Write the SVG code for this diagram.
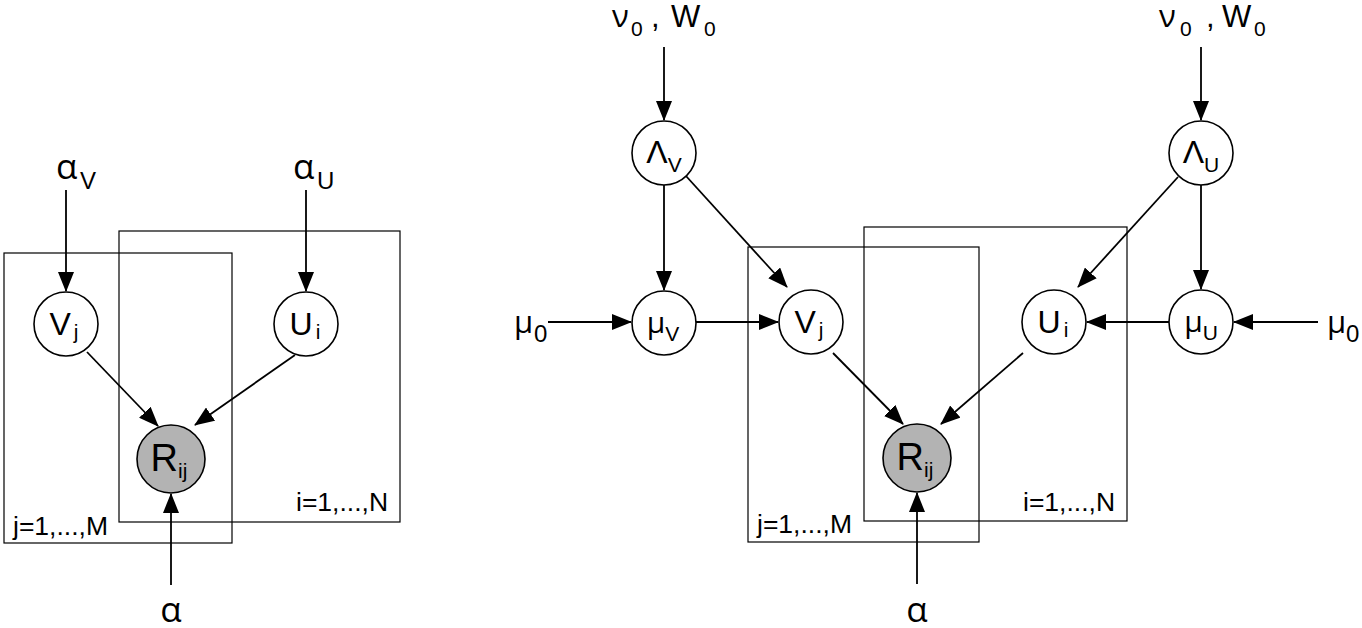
<svg xmlns="http://www.w3.org/2000/svg" width="1362" height="628" viewBox="0 0 1362 628">
<defs>
<marker id="ah" markerWidth="20" markerHeight="16" refX="19" refY="8" orient="auto" markerUnits="userSpaceOnUse">
<path d="M0,0 L20,8 L0,16 Z" fill="#000"/>
</marker>
<style>
text{font-family:"Liberation Sans",Arial,sans-serif;fill:#000}
.gr{font-family:"Open Sans","Liberation Sans",sans-serif}
.plate{fill:none;stroke:#000;stroke-width:1.2}
.node{fill:#fff;stroke:#000;stroke-width:1.6}
.obs{fill:#b3b3b3;stroke:#000;stroke-width:1.6}
.edge{fill:none;stroke:#000;stroke-width:1.8;marker-end:url(#ah)}
.lbl{font-size:31px}
.big{font-size:35px}
.sub{font-size:21px}
.sub2{font-size:24px}
.pl{font-size:26.5px}
.nt{font-size:32px;text-anchor:middle}
</style>
</defs>
<rect width="1362" height="628" fill="#fff"/>

<g id="plates">
<rect id="left-plate-j" class="plate" x="4" y="253" width="228" height="290"/>
<rect id="left-plate-i" class="plate" x="119" y="231" width="281" height="291"/>
<text class="pl" x="13" y="535">j=1,...,M</text>
<text class="pl" x="296" y="511">i=1,...,N</text>
<rect id="right-plate-j" class="plate" x="748" y="247" width="231" height="295"/>
<rect id="right-plate-i" class="plate" x="864" y="227" width="263" height="294"/>
<text class="pl" x="757" y="533">j=1,...,M</text>
<text class="pl" x="1023" y="511">i=1,...,N</text>
</g>

<g id="connectors">
<path class="edge" d="M66,190 L66,291"/>
<path class="edge" d="M306,190 L306,291"/>
<path class="edge" d="M87,352 L158,426"/>
<path class="edge" d="M295,355 L195,425"/>
<path class="edge" d="M171,585 L171,494"/>

<path class="edge" d="M664,47 L664,120"/>
<path class="edge" d="M664,185 L664,290"/>
<path class="edge" d="M686,176 L787,287"/>
<path class="edge" d="M548,322 L631,322"/>
<path class="edge" d="M696,322 L778,322"/>
<path class="edge" d="M1201,47 L1201,120"/>
<path class="edge" d="M1201,185 L1201,289"/>
<path class="edge" d="M1178,177 L1078,287"/>
<path class="edge" d="M1169,322 L1087,322"/>
<path class="edge" d="M1318,322 L1234,322"/>
<path class="edge" d="M833,353 L903,424"/>
<path class="edge" d="M1023,353 L941,424"/>
<path class="edge" d="M917,584 L917,493"/>
</g>

<!-- left model -->
<g id="alphaV"><text class="big gr" x="56" y="179">α</text><text class="sub2" x="80" y="189">V</text></g>
<g id="alphaU"><text class="big gr" x="293" y="179">α</text><text class="sub2" x="317" y="189">U</text></g>
<g id="alpha-left"><text class="big gr" x="171" y="622" text-anchor="middle">α</text></g>
<g id="Vj-left"><circle class="node" cx="66" cy="324" r="32"/><text class="nt" x="64" y="335">V<tspan class="sub" dx="3" dy="4">j</tspan></text></g>
<g id="Ui-left"><circle class="node" cx="306" cy="324" r="32"/><text class="nt" x="305" y="335">U<tspan class="sub" dx="3" dy="4">i</tspan></text></g>
<g id="Rij-left"><circle class="obs" cx="171" cy="459" r="34"/><text class="nt" x="169" y="471" style="font-size:38px">R<tspan class="sub" dy="7">ij</tspan></text></g>

<!-- right model -->
<g id="nuW-left"><text class="lbl gr" x="612" y="27">ν</text><text class="sub" x="631" y="36">0</text><text class="lbl" x="651" y="27">,</text><text class="lbl" x="671" y="27">W</text><text class="sub" x="704" y="36">0</text></g>
<g id="nuW-right"><text class="lbl gr" x="1159" y="27">ν</text><text class="sub" x="1180" y="36">0</text><text class="lbl" x="1206" y="27">,</text><text class="lbl" x="1222" y="27">W</text><text class="sub" x="1254" y="36">0</text></g>
<g id="mu0-left"><text class="lbl gr" x="514" y="333">μ</text><text class="sub2" x="534" y="342">0</text></g>
<g id="mu0-right"><text class="lbl gr" x="1327" y="333">μ</text><text class="sub2" x="1346" y="342">0</text></g>
<g id="alpha-right"><text class="big gr" x="917" y="622" text-anchor="middle">α</text></g>

<g id="LambdaV"><circle class="node" cx="664" cy="153" r="32"/><text class="nt" x="664" y="163">Λ<tspan class="sub" dy="9">V</tspan></text></g>
<g id="muV"><circle class="node" cx="664" cy="323" r="32"/><text class="nt" x="663" y="333"><tspan class="gr" style="font-size:30px">μ</tspan><tspan class="sub" dy="8">V</tspan></text></g>
<g id="Vj-right"><circle class="node" cx="811" cy="322" r="32"/><text class="nt" x="809" y="333">V<tspan class="sub" dx="3" dy="4">j</tspan></text></g>
<g id="Ui-right"><circle class="node" cx="1054" cy="322" r="32"/><text class="nt" x="1053" y="333">U<tspan class="sub" dx="3" dy="4">i</tspan></text></g>
<g id="LambdaU"><circle class="node" cx="1201" cy="153" r="32"/><text class="nt" x="1201" y="163">Λ<tspan class="sub" dy="9">U</tspan></text></g>
<g id="muU"><circle class="node" cx="1201" cy="322" r="32"/><text class="nt" x="1201" y="332"><tspan class="gr" style="font-size:30px">μ</tspan><tspan class="sub" dy="8">U</tspan></text></g>
<g id="Rij-right"><circle class="obs" cx="917" cy="458" r="34"/><text class="nt" x="915" y="470" style="font-size:38px">R<tspan class="sub" dy="7">ij</tspan></text></g>
</svg>
